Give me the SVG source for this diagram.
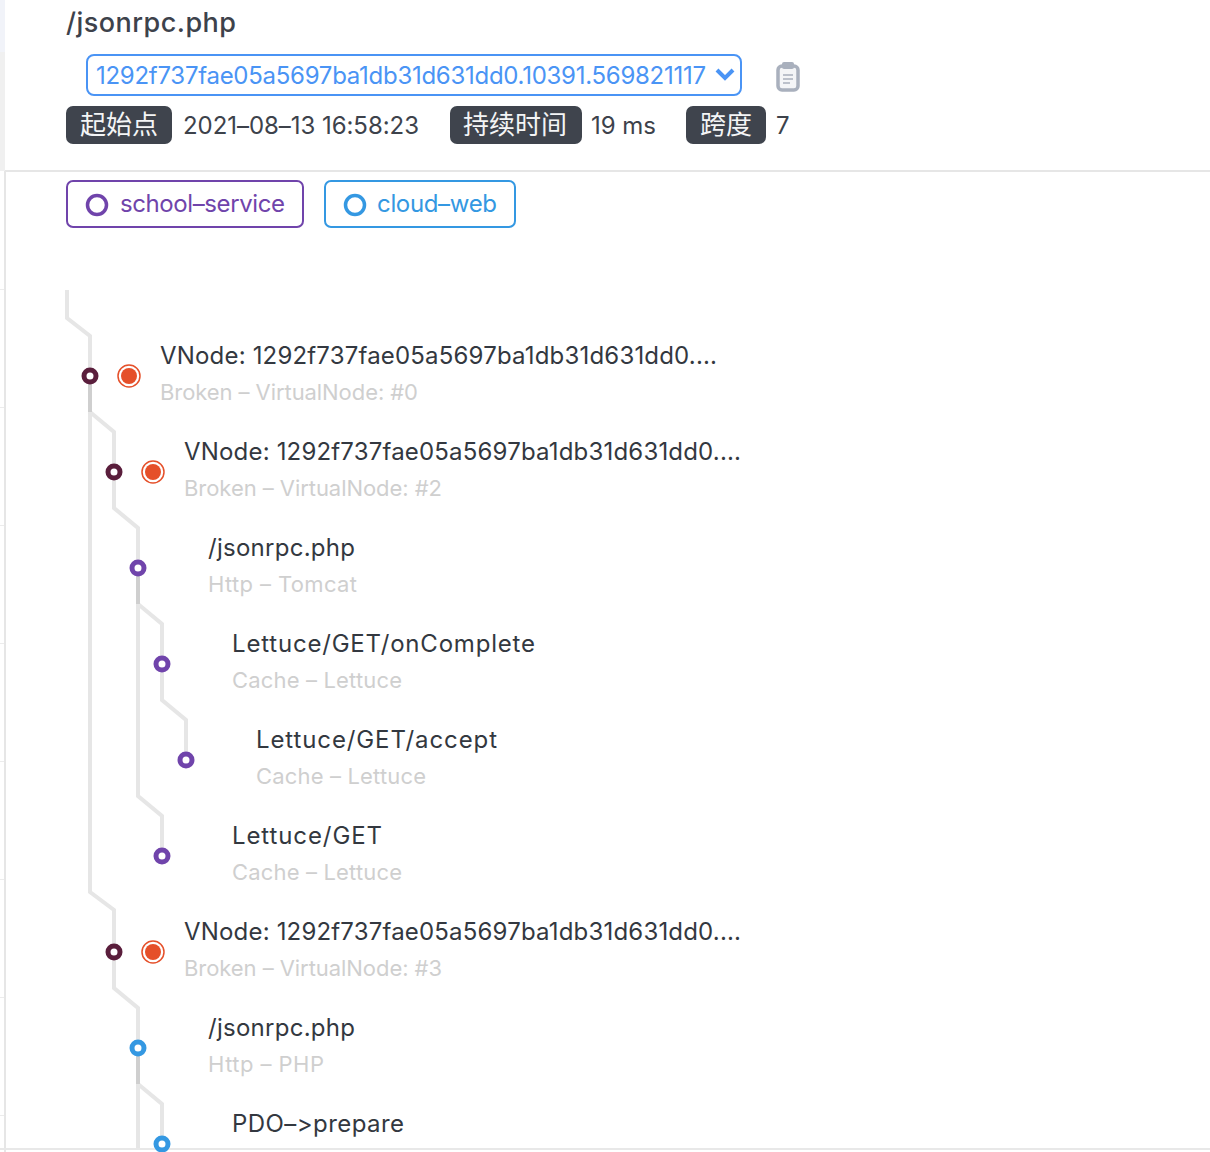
<svg xmlns="http://www.w3.org/2000/svg" width="1210" height="1152" viewBox="0 0 1210 1152">
<style>
text{font-family:"Inter","Liberation Sans","Noto Sans CJK SC",sans-serif;font-feature-settings:"calt" 0,"liga" 0}
.t{font-size:24px;fill:#333840}
.s{font-size:22px;fill:#cfcfcf}
.m{font-size:24px;fill:#3d424b}
.b{font-size:26px;fill:#f4f5f6;font-family:"Noto Sans CJK SC",sans-serif}
.bg{fill:#3f444d}
.l{fill:none;stroke:#e6e6e6;stroke-width:4}
.d{fill:none;stroke:#cfcfcf;stroke-width:4}
.n{fill:#fff;stroke-width:5}
.v{stroke:#5a1e3c}.p{stroke:#7044ab}.c{stroke:#3498e2}
.o{fill:#e5502a}.r{fill:none;stroke:#e5502a;stroke-width:1.5}
</style>
<rect width="1210" height="1152" fill="#fff"/>
<g id="chrome">
<rect x="0" y="0" width="5" height="52" fill="#f1f3f9"/>
<rect x="0" y="52" width="5" height="119" fill="#f0f0f0"/>
<rect x="4" y="171" width="2" height="981" fill="#e6e6e6"/>
<rect x="5" y="170" width="1205" height="2" fill="#e6e6e6"/>
<rect x="0" y="1148" width="1210" height="2" fill="#e8e8e8"/>
<path d="M0 289.500h4M0 407.500h4M0 525.500h4M0 643.500h4M0 761.500h4M0 879.500h4M0 997.500h4M0 1115.500h4" stroke="#ececec" fill="none"/>
</g>
<g id="header">
<text x="66" y="32" font-size="27" font-weight="500" fill="#3d424b" textLength="170">/jsonrpc.php</text>
<rect x="87" y="55" width="654" height="40" rx="7" fill="#fff" stroke="#4a94f5" stroke-width="2"/>
<text x="96" y="84" font-size="24" fill="#4a94f5" textLength="610">1292f737fae05a5697ba1db31d631dd0.10391.569821117</text>
<path d="M717 70l8 8 8-8" fill="none" stroke="#4a94f5" stroke-width="4"/>
<g id="clipboard">
<rect x="778" y="66" width="20" height="24" rx="4" fill="#f4f5f7" stroke="#a9b0bd" stroke-width="3.500"/>
<rect x="782" y="62" width="12" height="7" rx="2" fill="#a9b0bd"/>
<path d="M783 75h10M783 79h10M783 83h7" stroke="#a9b0bd" stroke-width="1.500" fill="none"/>
</g>
<rect class="bg" x="66" y="106" width="106" height="38" rx="7"/>
<text class="b" x="80" y="134">起始点</text>
<text class="m" x="183" y="134" textLength="236">2021–08–13 16:58:23</text>
<rect class="bg" x="450" y="106" width="132" height="38" rx="7"/>
<text class="b" x="463" y="134">持续时间</text>
<text class="m" x="591" y="134" textLength="65">19 ms</text>
<rect class="bg" x="686" y="106" width="80" height="38" rx="7"/>
<text class="b" x="700" y="134">跨度</text>
<text class="m" x="776" y="134">7</text>
</g>
<g id="legend-school-service">
<rect x="67" y="181" width="236" height="46" rx="6" fill="#fff" stroke="#7044ab" stroke-width="2"/>
<circle cx="97" cy="205" r="9.500" fill="none" stroke="#7044ab" stroke-width="3.500"/>
<text x="120" y="212" font-size="24" fill="#7044ab" textLength="165">school–service</text>
</g>
<g id="legend-cloud-web">
<rect x="325" y="181" width="190" height="46" rx="6" fill="#fff" stroke="#3498e2" stroke-width="2"/>
<circle cx="355" cy="205" r="9.500" fill="none" stroke="#3498e2" stroke-width="3.500"/>
<text x="377" y="212" font-size="24" fill="#3498e2" textLength="120">cloud–web</text>
</g>
<g id="connectors">
<path class="l" d="M67 290V318L90 336V892L114 910V952"/>
<path class="l" d="M90 412L114 432V508L138 528V796L162 816V856"/>
<path class="l" d="M138 604L162 624V700L186 720V760"/>
<path class="l" d="M114 952V988L138 1008V1148"/>
<path class="l" d="M138 1084L162 1104V1144"/>
<path class="d" d="M90 376V412"/>
<path class="d" d="M138 568V604"/>
<path class="d" d="M138 1048V1084"/>
</g>
<g id="n0"><circle class="n v" cx="90" cy="376" r="6"/><circle class="r" cx="129" cy="376" r="11"/><circle class="o" cx="129" cy="376" r="8"/>
<text class="t" x="160" y="364" textLength="557">VNode: 1292f737fae05a5697ba1db31d631dd0....</text><text class="s" x="160" y="400" textLength="258">Broken – VirtualNode: #0</text></g>
<g id="n1"><circle class="n v" cx="114" cy="472" r="6"/><circle class="r" cx="153" cy="472" r="11"/><circle class="o" cx="153" cy="472" r="8"/>
<text class="t" x="184" y="460" textLength="557">VNode: 1292f737fae05a5697ba1db31d631dd0....</text><text class="s" x="184" y="496" textLength="258">Broken – VirtualNode: #2</text></g>
<g id="n2"><circle class="n p" cx="138" cy="568" r="6"/>
<text class="t" x="208" y="556" textLength="147">/jsonrpc.php</text><text class="s" x="208" y="592" textLength="149">Http – Tomcat</text></g>
<g id="n3"><circle class="n p" cx="162" cy="664" r="6"/>
<text class="t" x="232" y="652" textLength="303">Lettuce/GET/onComplete</text><text class="s" x="232" y="688" textLength="170">Cache – Lettuce</text></g>
<g id="n4"><circle class="n p" cx="186" cy="760" r="6"/>
<text class="t" x="256" y="748" textLength="241">Lettuce/GET/accept</text><text class="s" x="256" y="784" textLength="170">Cache – Lettuce</text></g>
<g id="n5"><circle class="n p" cx="162" cy="856" r="6"/>
<text class="t" x="232" y="844" textLength="150">Lettuce/GET</text><text class="s" x="232" y="880" textLength="170">Cache – Lettuce</text></g>
<g id="n6"><circle class="n v" cx="114" cy="952" r="6"/><circle class="r" cx="153" cy="952" r="11"/><circle class="o" cx="153" cy="952" r="8"/>
<text class="t" x="184" y="940" textLength="557">VNode: 1292f737fae05a5697ba1db31d631dd0....</text><text class="s" x="184" y="976" textLength="258">Broken – VirtualNode: #3</text></g>
<g id="n7"><circle class="n c" cx="138" cy="1048" r="6"/>
<text class="t" x="208" y="1036" textLength="147">/jsonrpc.php</text><text class="s" x="208" y="1072" textLength="116">Http – PHP</text></g>
<g id="n8"><circle class="n c" cx="162" cy="1144" r="6"/>
<text class="t" x="232" y="1132" textLength="172">PDO–&gt;prepare</text></g>
</svg>
